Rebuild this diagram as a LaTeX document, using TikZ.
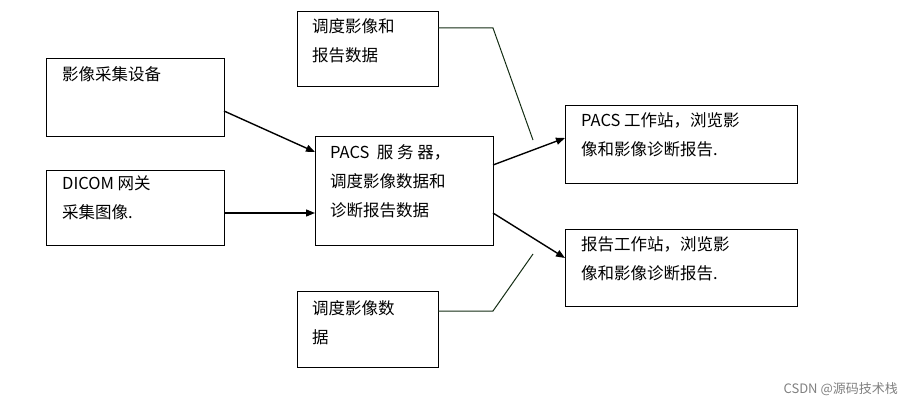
\documentclass[tikz,border=0pt]{standalone}
\usepackage{fontspec}
\setmainfont{Noto Sans CJK SC}
\usetikzlibrary{arrows.meta}
\begin{document}
\begin{tikzpicture}[x=1pt,y=-1pt,
  bx/.style={draw,line width=0.9pt},
  tx/.style={anchor=north west,align=left,font=\fontsize{16.5}{29}\selectfont,inner sep=0pt},
  arr/.style={-{Triangle[length=9pt,width=7pt]},line width=1.4pt},
  thin/.style={line width=1pt,draw={rgb,255:red,20;green,45;blue,20}}]
\useasboundingbox (0,0) rectangle (914,409);
\draw[bx] (46,58) rectangle (224,136);
\draw[bx] (46,170) rectangle (224,245);
\draw[bx] (315,136) rectangle (493,245);
\draw[bx] (297,11) rectangle (438,86);
\draw[bx] (297,291) rectangle (438,367);
\draw[bx] (565,105) rectangle (797,183);
\draw[bx] (565,229) rectangle (797,306);
\node[tx] (t1) at (62,66) {影像采集设备};
\node[tx] (t2) at (62,176) {DICOM 网关\\采集图像.};
\node[tx] (t3) at (330,144) {PACS\ \ 服 务 器，\\调度影像数据和\\诊断报告数据};
\node[tx] (t4) at (312,18) {调度影像和\\报告数据};
\node[tx] (t5) at (312,300) {调度影像数\\据};
\node[tx] (t6) at (581,112) {PACS 工作站，浏览影\\像和影像诊断报告.};
\node[tx] (t7) at (581,236) {报告工作站，浏览影\\像和影像诊断报告.};
\coordinate (p1) at (224,111); \coordinate (q1) at (315,152);
\coordinate (p2) at (224,213); \coordinate (q2) at (315,213);
\coordinate (p3) at (493,165); \coordinate (q3) at (565,138);
\coordinate (p4) at (493,213); \coordinate (q4) at (565,258);
\draw[arr] (p1) -- (q1);
\draw[arr] (p2) -- (q2);
\draw[arr] (p3) -- (q3);
\draw[arr] (p4) -- (q4);
\coordinate (u1) at (438,28); \coordinate (u2) at (493,28); \coordinate (u3) at (533,140);
\coordinate (v1) at (438,311); \coordinate (v2) at (493,311); \coordinate (v3) at (533,254);
\draw[thin] (u1) -- (u2) -- (u3);
\draw[thin] (v1) -- (v2) -- (v3);
\node[anchor=east,text=gray,font=\fontsize{13}{15}\selectfont,inner sep=0pt] (wm) at (898,389) {CSDN @源码技术栈};
\end{tikzpicture}
\end{document}
